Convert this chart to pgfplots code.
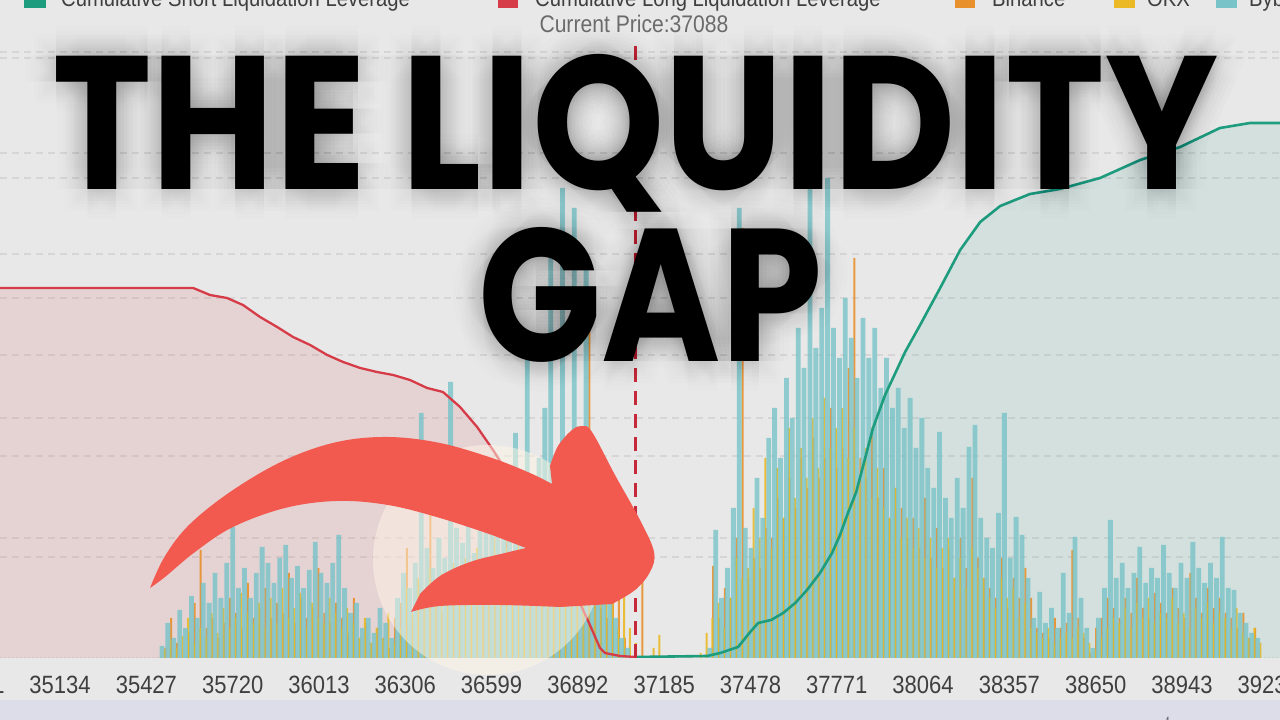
\documentclass[border=0pt]{standalone}
\usepackage{pgfplots}
\pgfplotsset{compat=1.18}
\usepackage{pgfplotstable}
\usepackage{graphicx}
\usepackage{fontspec}
\setmainfont{Liberation Sans}
\newfontfamily\uifont[FakeStretch=0.88]{Liberation Sans}
\newfontfamily\titlefont{Poppins Bold}

\definecolor{bg}{HTML}{E8E8E8}
\definecolor{band}{HTML}{DCDDE8}
\definecolor{redline}{HTML}{D63C48}
\definecolor{greenline}{HTML}{1E9C7E}
\definecolor{bybit}{HTML}{78C3C8}
\definecolor{binance}{HTML}{E8902C}
\definecolor{okx}{HTML}{EBB925}
\definecolor{arrowred}{HTML}{F2594F}
\definecolor{gridc}{HTML}{D6D6D6}
\definecolor{txt}{HTML}{3F3F3F}
\definecolor{dashred}{HTML}{C62A3A}
\definecolor{cream}{HTML}{FFF6E6}

\pgfplotstableread{
p h
34930 370
35586 370
35643 363
35701 360
35755 353
35813 341
35871 331
35925 321
35983 313
36041 303
36095 296
36153 290
36210 286
36265 283
36322 278
36380 270
36434 266
36492 251
36550 231
36604 208
36662 181
36730 143
36798 106
36849 78
36899 55
36933 33
36967 10
36984 5
37035 2
37088 1
}\redcurve

\pgfplotstableread{
p h
37088 1
37331 2
37375 5
37436 11
37477 26
37504 35
37548 38
37589 45
37630 55
37670 68
37714 85
37755 105
37782 123
37809 145
37837 166
37864 196
37894 230
37935 263
37962 280
38003 306
38054 333
38122 370
38190 408
38258 436
38326 452
38427 464
38529 469
38665 480
38801 498
38937 511
39072 530
39174 535
39276 535
}\greencurve

\pgfplotstableread{
p B N O
35480 12 0 8
35500 35 10 18
35520 20 40 10
35540 48 15 22
35560 30 0 40
35580 62 25 15
35600 40 55 30
35620 75 108 20
35640 55 30 45
35660 85 40 25
35680 60 20 50
35700 95 35 30
35720 131 60 40
35740 70 45 65
35760 90 30 45
35780 60 75 35
35800 85 40 55
35820 111 50 30
35840 95 70 60
35860 75 40 35
35880 100 55 70
35900 113 45 40
35920 80 85 50
35940 92 35 65
35960 70 60 30
35980 88 40 55
36000 116 50 40
36020 85 90 35
36040 75 45 60
36060 95 35 45
36080 123 55 30
36100 70 40 50
36120 45 25 35
36140 55 60 20
36160 30 20 40
36180 40 35 15
36200 25 15 30
36220 50 30 20
36240 35 20 45
36260 20 10 15
36280 60 40 30
36300 85 55 70
36320 70 110 45
36340 95 40 80
36360 245 75 60
36380 110 50 90
36400 90 150 55
36420 120 60 85
36440 100 45 70
36460 276 80 95
36480 130 60 75
36500 115 90 100
36520 140 55 80
36540 105 70 110
36560 150 65 90
36580 125 100 70
36600 160 75 120
36620 135 90 95
36640 175 60 110
36660 150 120 85
36680 225 80 130
36700 160 95 100
36720 298 70 140
36740 180 130 110
36760 200 90 150
36780 250 110 120
36800 420 85 160
36820 190 140 130
36840 470 100 150
36860 210 120 110
36880 450 95 140
36900 180 160 100
36920 400 110 130
36940 120 330 90
36960 90 70 80
36980 70 50 60
37000 55 40 75
37020 40 100 30
37040 20 60 100
37060 10 20 30
37080 0 0 15
37100 0 0 0
37120 0 78 0
37140 0 0 10
37160 0 0 23
37180 0 0 0
37200 0 0 0
37220 0 0 0
37240 0 0 0
37260 0 0 0
37280 0 0 0
37300 0 0 5
37320 0 0 25
37340 10 0 40
37360 128 92 55
37380 60 40 30
37400 90 70 60
37420 150 60 100
37440 450 120 80
37460 130 430 90
37480 110 80 150
37500 180 100 120
37520 140 90 200
37540 220 130 110
37560 250 120 190
37580 200 160 140
37600 280 140 230
37620 240 180 160
37640 330 150 210
37660 290 200 180
37680 470 170 240
37700 310 220 190
37720 350 180 260
37740 480 200 210
37760 330 250 230
37780 300 190 250
37800 360 210 200
37820 320 290 230
37840 280 400 180
37860 340 200 210
37880 300 180 160
37900 330 230 190
37920 270 160 150
37940 300 190 140
37960 250 140 170
37980 270 170 120
38000 230 150 140
38020 260 120 110
38040 210 140 130
38060 240 110 100
38080 190 160 120
38100 170 100 90
38120 226 130 110
38140 160 90 120
38160 140 110 80
38180 180 80 100
38200 150 120 70
38220 211 90 110
38240 233 180 90
38260 140 100 80
38280 120 80 60
38300 110 70 50
38320 145 60 80
38340 245 100 60
38360 100 50 70
38380 141 80 40
38400 123 60 55
38420 80 90 30
38440 40 60 25
38460 66 30 20
38480 35 25 30
38500 50 20 15
38520 30 40 20
38540 85 30 25
38560 45 35 20
38580 121 108 30
38600 60 40 25
38620 30 20 15
38640 10 5 8
38660 40 30 20
38680 70 40 30
38700 138 60 40
38720 80 50 35
38740 95 40 50
38760 70 60 30
38780 85 45 55
38800 111 80 40
38820 75 50 60
38840 90 40 35
38860 80 65 45
38880 113 55 40
38900 85 45 60
38920 70 70 35
38940 95 50 45
38960 80 40 30
38980 116 85 50
39000 90 60 40
39020 75 45 55
39040 95 70 35
39060 80 50 45
39080 121 60 40
39100 70 45 30
39120 68 40 50
39140 45 30 25
39160 35 45 20
39180 25 20 30
39200 20 30 15
}\bars

\newsavebox\titleA
\newsavebox\titleB

\begin{document}
\sbox\titleA{\resizebox{1165pt}{135pt}{\titlefont THE LIQUIDITY}}%
\sbox\titleB{\resizebox{344pt}{134pt}{\titlefont GAP}}%
\begin{tikzpicture}[x=1pt,y=1pt]
\useasboundingbox (0,0) rectangle (1280,720);
\clip (0,0) rectangle (1280,720);
\fill[bg] (0,0) rectangle (1280,720);
\fill[band] (0,0) rectangle (1280,20);
\begin{axis}[
  at={(0,62)}, anchor=south west,
  scale only axis, width=1280pt, height=613pt,
  xmin=34930, xmax=39276, ymin=0, ymax=613,
  axis line style={draw=none},
  major tick length=0pt,
  xtick={35134,35427,35720,36013,36306,36599,36892,37185,37478,37771,38064,38357,38650,38943,39236},
  xticklabels={35134,35427,35720,36013,36306,36599,36892,37185,37478,37771,38064,38357,38650,38943,39236},
  xticklabel style={font=\uifont\fontsize{25}{25}\selectfont, text=txt, inner sep=0pt, anchor=north, yshift=-18pt},
  ytick={101,120,202,240,303,360,404,480,505,600,606},
  yticklabels={},
  ymajorgrids,
  grid style={gridc, line width=1.1pt, dash pattern=on 7pt off 5pt},
]
\addplot[gridc, line width=1pt, dash pattern=on 2pt off 2pt] coordinates {(34930,0) (39276,0)};
\addplot[draw=none, fill=redline, fill opacity=0.12] table[x=p,y=h] {\redcurve} \closedcycle;
\addplot[draw=none, fill=greenline, fill opacity=0.1] table[x=p,y=h] {\greencurve} \closedcycle;
\addplot[ybar, bar width=2pt, bar shift=-2.6pt, fill=binance, draw=none, fill opacity=0.9] table[x=p,y=N] {\bars};
\addplot[ybar, bar width=2pt, bar shift=2.6pt, fill=okx, draw=none, fill opacity=0.9] table[x=p,y=O] {\bars};
\addplot[ybar, bar width=4.8pt, bar shift=0pt, fill=bybit, draw=none, fill opacity=0.8] table[x=p,y=B] {\bars};
\addplot[redline, line width=2.3pt] table[x=p,y=h] {\redcurve};
\addplot[greenline, line width=2.6pt] table[x=p,y=h] {\greencurve};
\addplot[dashred, line width=2.6pt, dash pattern=on 14pt off 9pt] coordinates {(37088,0) (37088,613)};
\end{axis}
% leftmost tick label, cut by the left edge as in the chart
\node[anchor=north, inner sep=0pt, text=txt, font=\uifont\fontsize{25}{25}\selectfont] at (-26,44) {34841};

% glow circle
\fill[cream, opacity=0.5] (488,160) circle (115);

% arrow
\fill[arrowred]
  plot[smooth, tension=0.6] coordinates {(150,132) (165,164) (190,196) (233,230) (285,260) (337,278) (388,283) (440,277) (492,262) (530,247) (552,236)}
  -- plot[smooth, tension=0.6] coordinates {(550,254) (558,274) (572,290) (582,294) (592,288) (615,245) (640,200) (654,168) (650,148) (635,130) (612,116)}
  -- plot[smooth, tension=0.6] coordinates {(560,113) (500,115) (440,114) (411,108)}
  -- plot[smooth, tension=0.6] coordinates {(420,126) (440,144) (470,158) (505,167) (526,172)}
  -- plot[smooth, tension=0.6] coordinates {(492,185) (440,202) (388,215) (337,219) (285,212) (233,193) (195,168) (165,143) (150,132)}
  -- cycle;

% title shadow (soft glow)
\foreach \r in {4,8,12,16,20,25,30} {
  \foreach \a in {0,45,...,315} {
    \begin{scope}[shift={(\a:\r)}]
      \node[anchor=base west, inner sep=0pt, opacity=0.006] at (52,530) {\usebox\titleA};
      \node[anchor=base west, inner sep=0pt, opacity=0.006] at (478,358) {\usebox\titleB};
    \end{scope}
  }
}
\node[anchor=base west, inner sep=0pt, text=black] at (52,530) {\usebox\titleA};
\node[anchor=base west, inner sep=0pt, text=black] at (478,358) {\usebox\titleB};

% current price label
\node[anchor=base, inner sep=0pt, text=black!58] at (634,687) {\uifont\fontsize{24}{24}\selectfont Current Price:37088};

% legend (cut off at top)
\fill[greenline] (24,712) rectangle (46,734);
\node[anchor=base west, inner sep=0pt, text=txt] at (61,713) {\uifont\fontsize{23}{23}\selectfont Cumulative Short Liquidation Leverage};
\fill[redline] (498,712) rectangle (518,734);
\node[anchor=base west, inner sep=0pt, text=txt] at (535,713) {\uifont\fontsize{23}{23}\selectfont Cumulative Long Liquidation Leverage};
\fill[binance] (955,712) rectangle (975,734);
\node[anchor=base west, inner sep=0pt, text=txt] at (992,713) {\uifont\fontsize{23}{23}\selectfont Binance};
\fill[okx] (1114,712) rectangle (1135,734);
\node[anchor=base west, inner sep=0pt, text=txt] at (1147,713) {\uifont\fontsize{23}{23}\selectfont OKX};
\fill[bybit] (1216,712) rectangle (1237,734);
\node[anchor=base west, inner sep=0pt, text=txt] at (1249,713) {\uifont\fontsize{23}{23}\selectfont Bybit};
\end{tikzpicture}
\end{document}
